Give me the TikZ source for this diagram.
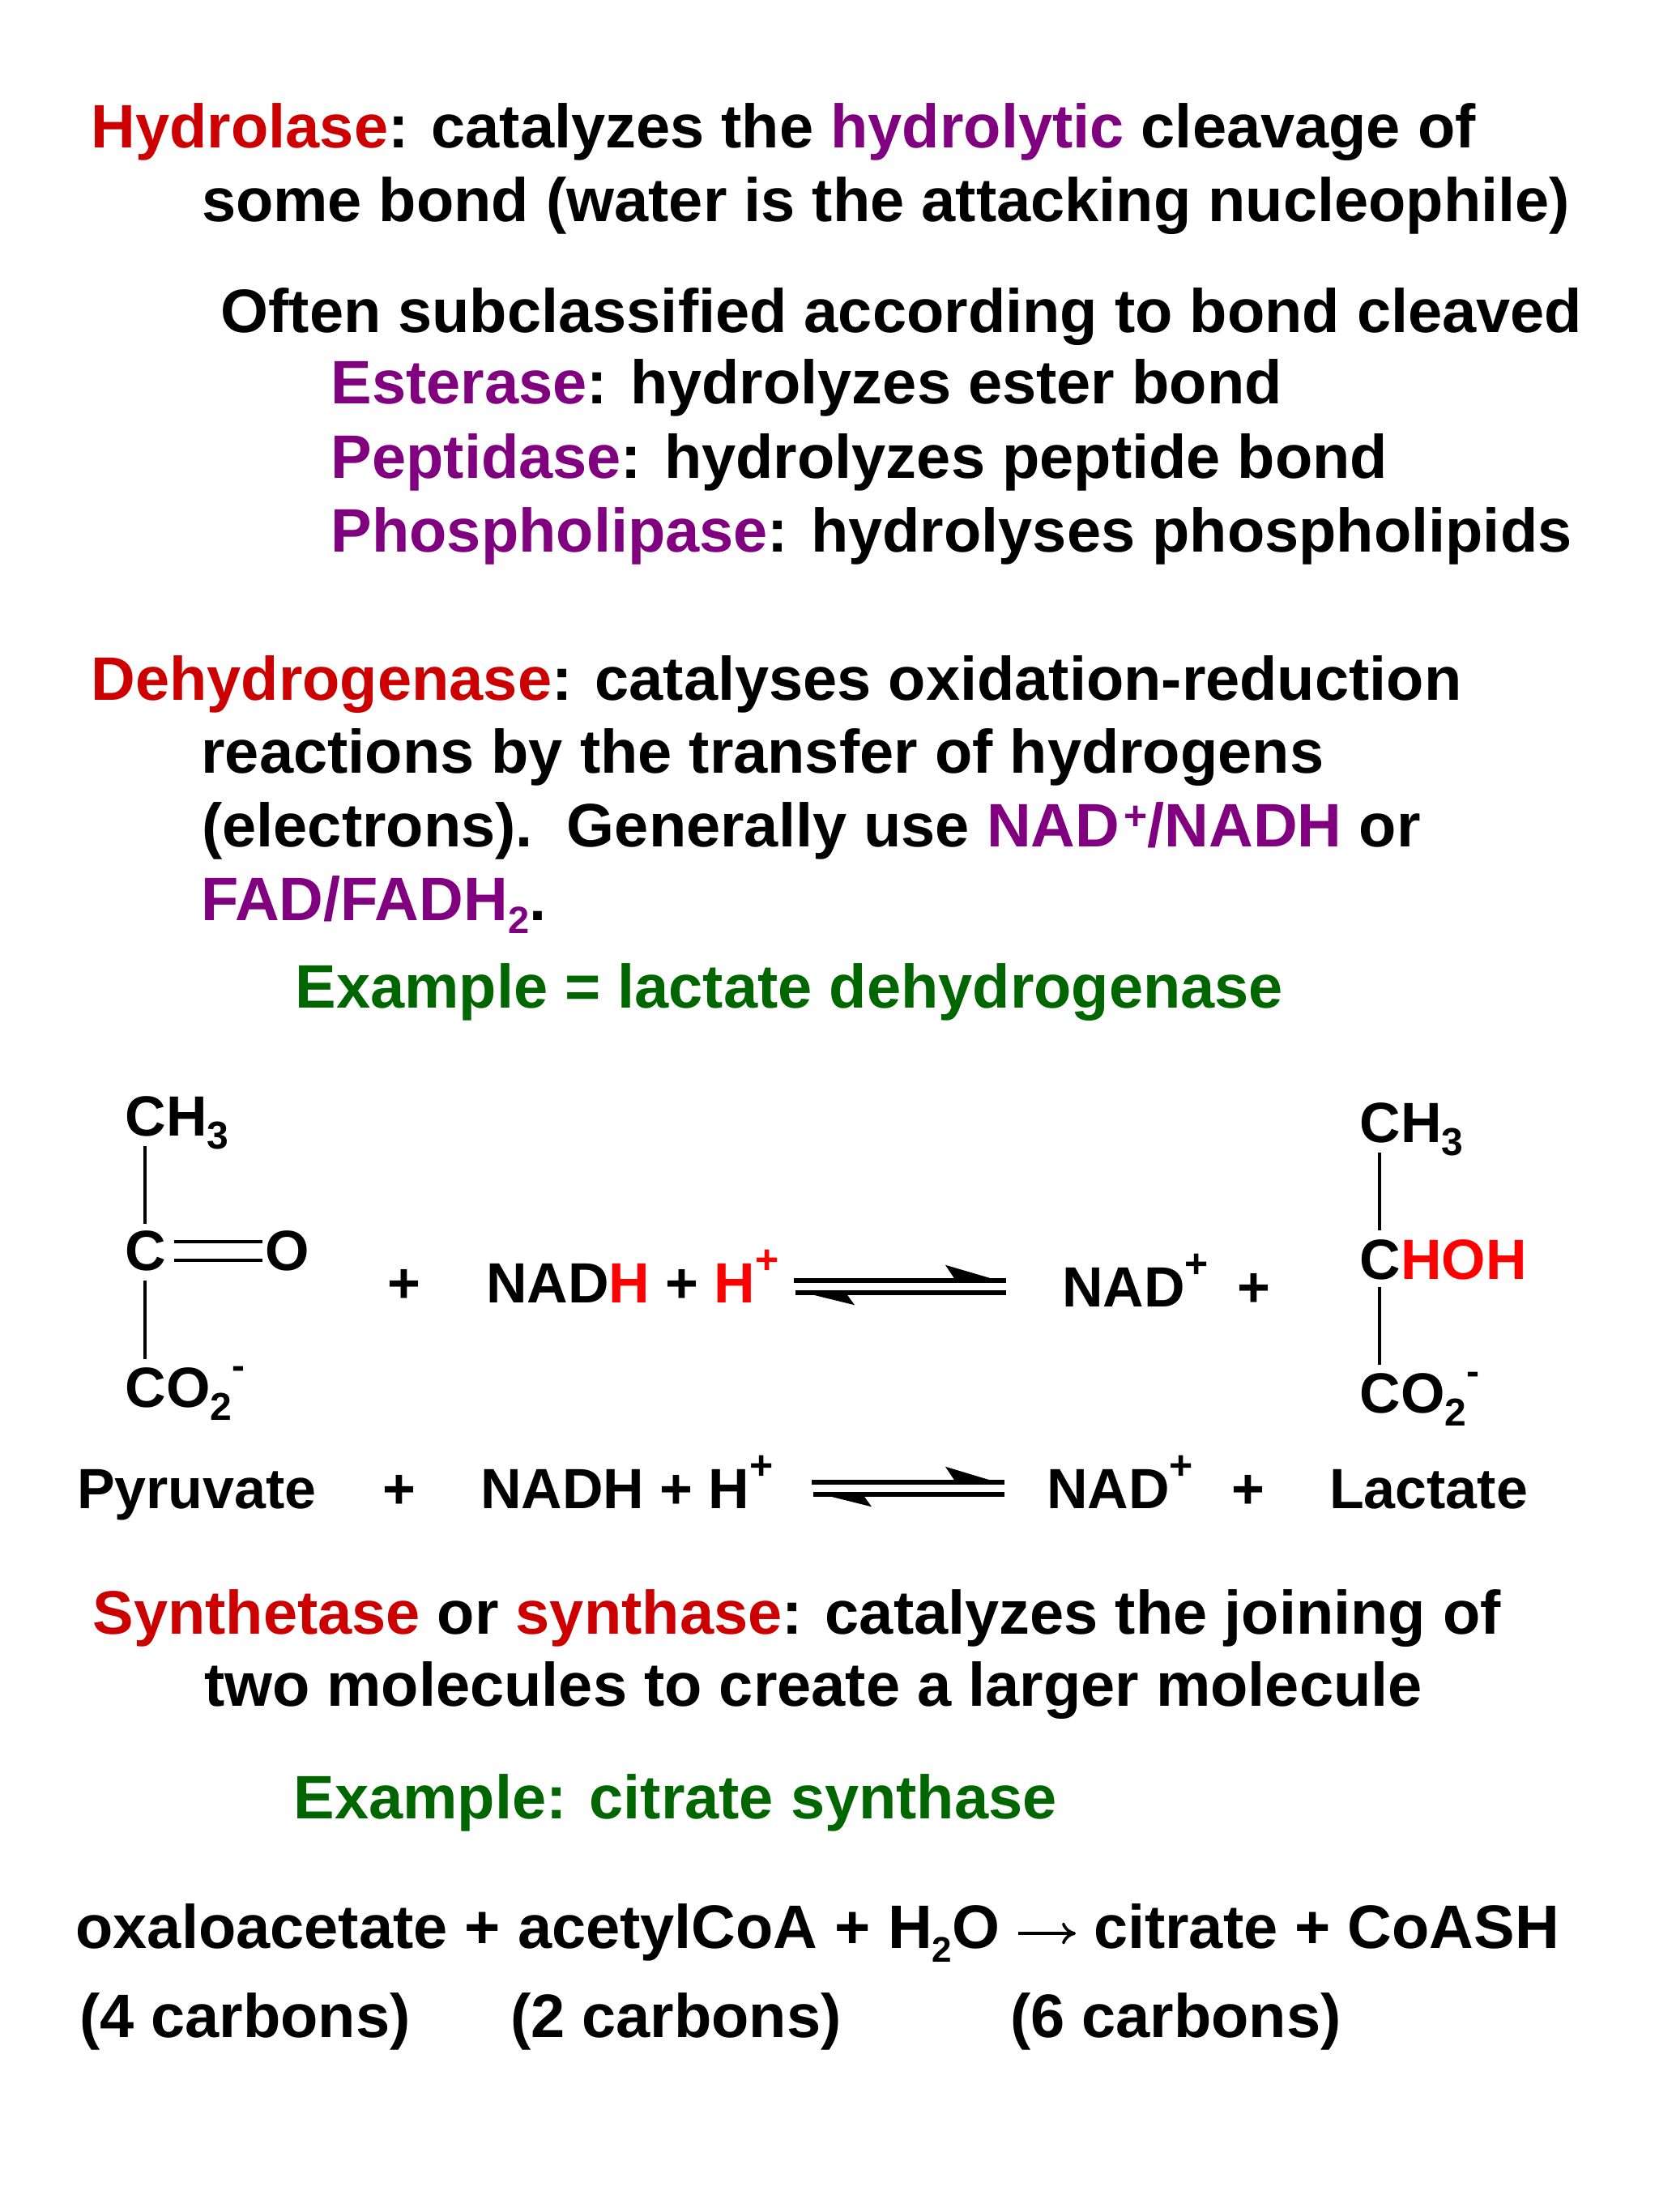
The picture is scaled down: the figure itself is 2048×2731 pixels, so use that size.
\documentclass[tikz,border=0pt]{standalone}
\usepackage{fontspec}
\usetikzlibrary{arrows.meta}
\setmainfont{Liberation Sans}
\definecolor{hred}{RGB}{204,0,0}
\definecolor{hpurple}{RGB}{128,0,128}
\definecolor{hgreen}{RGB}{0,102,0}
\definecolor{pured}{RGB}{255,0,0}
\newcommand\csub[1]{\raisebox{-16pt}{\fontsize{48}{48}\selectfont #1}}
\newcommand\csup[1]{\raisebox{36pt}{\fontsize{50}{50}\selectfont #1}}
\newcommand\cminus{\raisebox{35pt}{\fontsize{48}{48}\selectfont -}}
\newcommand\tsub[2]{\raisebox{-#2pt}{\fontsize{#1}{#1}\selectfont 2}}
\newcommand\tsup[1]{\hspace{5pt}\raisebox{21pt}{\fontsize{50}{50}\selectfont #1}}
\tikzset{
  txt/.style={anchor=base west, inner sep=0pt, outer sep=0pt,
    font=\fontsize{75.8}{91}\selectfont\bfseries},
  chem/.style={anchor=base west, inner sep=0pt, outer sep=0pt,
    font=\fontsize{70}{84}\selectfont\bfseries},
  bond/.style={line width=3.5pt},
  dbond/.style={line width=4pt},
  eqline/.style={line width=5.5pt},
  rxnarrow/.style={line width=3.6pt, -{To[length=17pt,width=27pt,line width=3.6pt]}},
}
\begin{document}
\begin{tikzpicture}[x=1pt,y=-1pt]
\useasboundingbox[fill=white] (0,0) rectangle (2048,2731);

% Hydrolase section
\node[txt] (l1) at (112.7,182.5) {{\color{hred}Hydrolase}: catalyzes the {\color{hpurple}hydrolytic} cleavage of};
\node[txt] (l2) at (249,273.7) {some bond (water is the attacking nucleophile)};
\node[txt] (l3) at (272.6,410) {Often subclassified according to bond cleaved};
\node[txt] (l4) at (408.8,498.7) {{\color{hpurple}Esterase}: hydrolyzes ester bond};
\node[txt] (l5) at (408.8,590.5) {{\color{hpurple}Peptidase}: hydrolyzes peptide bond};
\node[txt] (l6) at (408.8,681.3) {{\color{hpurple}Phospholipase}: hydrolyses phospholipids};

% Dehydrogenase section
\node[txt] (l7) at (112.5,864.5) {{\color{hred}Dehydrogenase}: catalyses oxidation-reduction};
\node[txt] (l8) at (248.5,954.7) {reactions by the transfer of hydrogens};
\node[txt] (l9) at (249.3,1045) {(electrons).\ \ Generally use {\color{hpurple}NAD\tsup{+}/NADH} or};
\node[txt] (l10) at (248,1136.3) {{\color{hpurple}FAD/FADH\tsub{47}{16}}.};
\node[txt,text=hgreen] (l11) at (364.5,1244) {Example = lactate dehydrogenase};

% Structures: pyruvate
\node[chem] (pch3) at (154.5,1402) {CH\csub{3}};
\node[chem] (pc) at (154.5,1568) {C};
\node[chem] (po) at (327,1568) {O};
\node[chem] (pco2) at (154.5,1737) {CO\csub{2}\cminus};
\coordinate (pb1) at (179,1415);
\coordinate (pb2) at (179,1511);
\coordinate (pb3) at (179,1581);
\coordinate (pb4) at (179,1678);
\draw[bond] (pb1) -- (pb2);
\draw[bond] (pb3) -- (pb4);
\coordinate (pd1) at (214.5,1533);
\coordinate (pd2) at (324,1533);
\coordinate (pd3) at (214.5,1555.5);
\coordinate (pd4) at (324,1555.5);
\draw[dbond] (pd1) -- (pd2);
\draw[dbond] (pd3) -- (pd4);

% middle of reaction
\node[chem,anchor=base] (plus1) at (499,1608) {+};
\node[chem] (nadh1) at (600,1608) {NAD{\color{pured}H} + {\color{pured}H\csup{+}}};
\coordinate (e1a) at (980,1581);
\coordinate (e1b) at (1242,1581);
\coordinate (e1c) at (982,1596);
\coordinate (e1d) at (1242,1596);
\draw[eqline] (e1a) -- (e1b);
\draw[eqline] (e1c) -- (e1d);
\fill ([yshift=-2.75pt]e1b) -- ++(-75,-22) -- ++(11,16.5) -- cycle;
\fill ([yshift=2.75pt]e1c) -- ++(73,18) -- ++(-9,-12.5) -- cycle;
\node[chem] (nad1) at (1311,1613) {NAD\csup{+}};
\node[chem,anchor=base] (plus2) at (1547.5,1613) {+};

% lactate
\node[chem] (lch3) at (1678.5,1410) {CH\csub{3}};
\node[chem] (lc) at (1678.5,1579) {C{\color{pured}HOH}};
\node[chem] (lco2) at (1678.5,1744) {CO\csub{2}\cminus};
\coordinate (lb1) at (1703,1423);
\coordinate (lb2) at (1703,1519);
\coordinate (lb3) at (1703,1589);
\coordinate (lb4) at (1703,1685);
\draw[bond] (lb1) -- (lb2);
\draw[bond] (lb3) -- (lb4);

% name row
\node[chem] (pyr) at (95,1862) {Pyruvate};
\node[chem,anchor=base] (plus3) at (493,1862) {+};
\node[chem] (nadh2) at (593,1862) {NADH + H\csup{+}};
\coordinate (e2a) at (1002,1830);
\coordinate (e2b) at (1240,1830);
\coordinate (e2c) at (1004,1845);
\coordinate (e2d) at (1240,1845);
\draw[eqline] (e2a) -- (e2b);
\draw[eqline] (e2c) -- (e2d);
\fill ([yshift=-2.75pt]e2b) -- ++(-73,-22) -- ++(11,16.5) -- cycle;
\fill ([yshift=2.75pt]e2c) -- ++(72,18) -- ++(-9,-12.5) -- cycle;
\node[chem] (nad2) at (1292,1862) {NAD\csup{+}};
\node[chem,anchor=base] (plus4) at (1541,1862) {+};
\node[chem] (lac) at (1641,1862) {Lactate};

% Synthetase section
\node[txt] (l12) at (114.5,2017) {{\color{hred}Synthetase} or {\color{hred}synthase}: catalyzes the joining of};
\node[txt] (l13) at (252,2106.7) {two molecules to create a larger molecule};
\node[txt,text=hgreen] (l14) at (362.5,2245) {Example: citrate synthase};
\node[txt] (l15a) at (93.5,2405) {oxaloacetate + acetylCoA + H\tsub{44}{17}O};
\node[txt] (l15b) at (1350,2405) {citrate + CoASH};
\coordinate (ra1) at (1257,2387);
\coordinate (ra2) at (1328,2387);
\draw[rxnarrow] (ra1) -- (ra2);
\node[txt] (l16a) at (98.2,2515) {(4 carbons)};
\node[txt] (l16b) at (630.2,2515) {(2 carbons)};
\node[txt] (l16c) at (1247,2515) {(6 carbons)};
\end{tikzpicture}
\end{document}
